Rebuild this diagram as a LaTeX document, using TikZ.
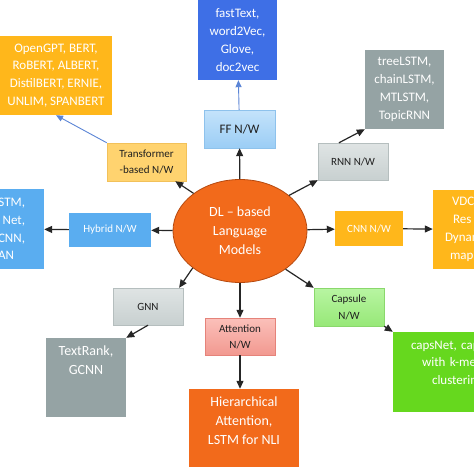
\documentclass[tikz,border=0pt]{standalone}
\usepackage{fontspec}
\setmainfont{Carlito}
\usepackage{tikz}
\usetikzlibrary{arrows.meta, shapes.geometric}

\definecolor{deepblue}{HTML}{3E6FE6}
\definecolor{skyblue}{HTML}{5AADF0}
\definecolor{fftop}{HTML}{C4E3FB}
\definecolor{ffbottom}{HTML}{9BCDF5}
\definecolor{ffline}{HTML}{8EC2EC}
\definecolor{amber}{HTML}{FFB71B}
\definecolor{paleamber}{HTML}{FFD36F}
\definecolor{paleamberline}{HTML}{F2C15A}
\definecolor{slate}{HTML}{95A3A4}
\definecolor{greytop}{HTML}{DFE4E4}
\definecolor{greybottom}{HTML}{C8D0D0}
\definecolor{greyline}{HTML}{B5BEBE}
\definecolor{flame}{HTML}{F26A1B}
\definecolor{flameline}{HTML}{B5490F}
\definecolor{pinktop}{HTML}{FBC0BA}
\definecolor{pinkbottom}{HTML}{F29990}
\definecolor{pinkline}{HTML}{E5837A}
\definecolor{greentop}{HTML}{B8F5A2}
\definecolor{greenbottom}{HTML}{97E878}
\definecolor{greenline}{HTML}{8AD86C}
\definecolor{lime}{HTML}{66D81E}
\definecolor{arrowblue}{HTML}{5B85D6}
\definecolor{labeltext}{HTML}{1F1F1F}

\begin{document}
\begin{tikzpicture}[
  x=1pt, y=-1pt,
  labelbox/.style={rectangle, minimum height=37pt, inner sep=2pt, align=center,
    text=labeltext, font=\fontsize{11}{16}\selectfont},
  leafbox/.style={rectangle, minimum width=79pt, minimum height=79pt, inner sep=2pt,
    align=center, text=white, font=\fontsize{13}{17.8}\selectfont},
  greybox/.style={labelbox, top color=greytop, bottom color=greybottom, draw=greyline},
  arr/.style={-{Triangle[length=8pt,width=7pt]}, line width=1.2pt, black!85},
  bluearr/.style={-{Triangle[length=7pt,width=6pt]}, line width=0.9pt, arrowblue},
]
\useasboundingbox[fill=white] (0,0) rectangle (474,474);

% Nodes
\node[ellipse, fill=flame, draw=flameline, line width=0.8pt, minimum width=134pt,
  minimum height=103pt, inner sep=0pt, align=center, text=white,
  font=\fontsize{14}{19}\selectfont] (dl) at (240,231) {DL – based\\Language\\Models};

\node[labelbox, top color=fftop, bottom color=ffbottom, draw=ffline, minimum width=71pt,
  minimum height=38pt, font=\fontsize{13}{16}\selectfont] (ff) at (239.5,129) {FF N/W};
\node[leafbox, fill=deepblue, minimum height=80pt] (fasttext) at (237.5,40)
  {fastText,\\word2Vec,\\Glove,\\doc2vec};

\node[labelbox, fill=paleamber, draw=paleamberline, minimum width=79pt, minimum height=38pt]
  (transformer) at (146.5,162) {Transformer\\-based N/W};
\node[leafbox, fill=amber, minimum width=112pt] (opengpt) at (56,75.5)
  {OpenGPT, BERT,\\RoBERT, ALBERT,\\DistilBERT, ERNIE,\\UNLIM, SPANBERT};

\node[greybox, minimum width=70pt] (rnn) at (353,161.5) {RNN N/W};
\node[leafbox, fill=slate] (treelstm) at (404.5,89.5)
  {treeLSTM,\\chainLSTM,\\MTLSTM,\\TopicRNN};

\node[labelbox, fill=skyblue, text=white, minimum width=82pt, minimum height=34pt]
  (hybrid) at (110,230) {Hybrid N/W};
\node[leafbox, fill=skyblue, text width=42pt, inner xsep=19pt, align=right,
  minimum height=80pt] (lstmbox) at (4,229) {STM,\\Net,\\CNN,\\AN\hspace*{11pt}};

\node[labelbox, fill=amber, text=white, minimum width=68pt, minimum height=35pt]
  (cnn) at (369,228.5) {CNN N/W};
\node[leafbox, fill=amber, text width=70pt, inner xsep=12pt, align=left]
  (vdc) at (480,229.5) {\hspace*{7pt}VDC\\\hspace*{8pt}Res\\Dynam\\\hspace*{5pt}map};

\node[greybox, minimum width=70pt] (gnn) at (148,306.5) {GNN};
\node[leafbox, fill=slate, minimum width=80pt, text depth=35pt,
  font=\fontsize{14}{19}\selectfont] (textrank) at (86,377.5) {TextRank,\\GCNN};

\node[labelbox, top color=pinktop, bottom color=pinkbottom, draw=pinkline,
  minimum width=70pt] (attention) at (240,336.5) {Attention\\N/W};
\node[leafbox, fill=flame, minimum width=110pt, minimum height=78pt, text depth=14pt,
  font=\fontsize{14}{19}\selectfont] (hier) at (244,428)
  {Hierarchical\\Attention,\\LSTM for NLI};

\node[labelbox, top color=greentop, bottom color=greenbottom, draw=greenline,
  minimum width=70pt, minimum height=38pt, font=\fontsize{11}{17}\selectfont]
  (capsule) at (349,307) {Capsule\\N/W};
\node[leafbox, fill=lime, text width=80pt, inner xsep=18pt, align=left,
  minimum height=80pt, text depth=54pt] (capsnet) at (451,372)
  {capsNet, cap\\\hspace*{11pt}with k-me\\\hspace*{21pt}clusterin};

% Arrows
\draw[arr] (dl) -- (ff);
\draw[bluearr] (ff) -- (fasttext);
\draw[arr] (dl.141) -- (transformer);
\draw[bluearr] (transformer.north west) -- (opengpt.south);
\draw[arr] (dl.36) -- (rnn);
\draw[arr] (rnn.127) -- (treelstm.south west);
\draw[arr] (dl) -- (hybrid);
\draw[arr] (hybrid) -- (lstmbox);
\draw[arr] (dl) -- (cnn);
\draw[arr] (cnn) -- (vdc);
\draw[arr] (dl.218) -- (gnn.31);
\draw[arr] (gnn.south) -- (textrank.north east);
\draw[arr] (dl) -- (attention);
\draw[arr] (attention) -- (attention |- hier.north);
\draw[arr] (dl.320) -- (capsule.north west);
\draw[arr] (capsule.south east) -- (capsnet.north west);

\end{tikzpicture}
\end{document}
